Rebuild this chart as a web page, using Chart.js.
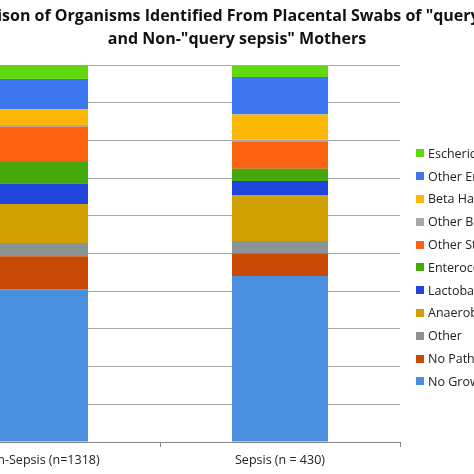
<!DOCTYPE html>
<html><head><meta charset="utf-8">
<script src="https://cdn.jsdelivr.net/npm/chart.js@4"></script>
<style>
html,body{margin:0;padding:0;width:474px;height:474px;overflow:hidden;background:#fff;font-family:"Open Sans",sans-serif}
#wrap{position:absolute;left:-140px;top:0;width:754px;height:474px}
#title{position:absolute;left:-140px;width:754px;top:4px;text-align:center;font-weight:bold;font-size:16px;line-height:23px;color:#111}
#legend{position:absolute;left:416px;top:142px;font-size:12.5px;color:#222;white-space:nowrap}
#legend div{height:22.8px;display:flex;align-items:center}
#legend span{display:inline-block;width:8px;height:8px;margin-right:4px}
</style></head><body>
<div id="wrap"><canvas id="c" width="754" height="474"></canvas></div>
<div id="title">Comparison of Organisms Identified From Placental Swabs of "query sepsis"<br>and Non-"query sepsis" Mothers</div>
<div id="legend"></div>
<script>
const categories = ["Non-Sepsis (n=1318)", "Sepsis (n = 430)"];
const seriesNames = ["No Growth","No Pathogen","Other","Anaerobes","Lactobacillus","Enterococcus","Other Streptococci","Other Beta Haemolytic Streptococci","Beta Haemolytic Streptococci Group B","Other Enterobacteriaceae","Escherichia coli"];
const noGrowth = [40.5, 44.0];
const noPathogen = [8.8, 6.0];
const other = [3.5, 3.3];
const anaerobes = [10.3, 12.1];
const lactobacillus = [5.5, 3.8];
const enterococcus = [5.7, 3.3];
const otherStrep = [9.3, 7.1];
const otherBeta = [0.5, 0.6];
const betaHaem = [4.2, 6.7];
const otherEntero = [8.0, 9.9];
const ecoli = [3.8, 3.1];
const yTicks = ["0%","10%","20%","30%","40%","50%","60%","70%","80%","90%","100%"];
const colors = ["#4a8fde","#c94a05","#8a9494","#d2a002","#1f45dc","#45a90e","#fb6212","#a8a8a8","#fdb806","#3d76ef","#62d80f"];
const values = [noGrowth,noPathogen,other,anaerobes,lactobacillus,enterococcus,otherStrep,otherBeta,betaHaem,otherEntero,ecoli];
const datasets = values.map((v,i)=>({label:seriesNames[i],data:v,backgroundColor:colors[i],borderWidth:0,barPercentage:0.4,categoryPercentage:1}));
const leg=document.getElementById('legend');
for(let i=seriesNames.length-1;i>=0;i--){const d=document.createElement('div');d.innerHTML='<span style="background:'+colors[i]+'"></span>'+seriesNames[i];leg.appendChild(d);}
new Chart(document.getElementById('c'),{type:'bar',data:{labels:categories,datasets},
options:{responsive:false,animation:false,layout:{padding:{top:65,right:214,left:0,bottom:0}},
plugins:{legend:{display:false},title:{display:false},tooltip:{enabled:false}},
scales:{
x:{stacked:true,grid:{display:true,drawOnChartArea:false,offset:true,tickLength:5,color:'#888'},border:{color:'#888'},
ticks:{color:'#222',font:{family:'Open Sans',size:12.5},padding:6},afterFit:s=>{s.height=32;}},
y:{stacked:true,min:0,max:100,ticks:{stepSize:10,callback:(v,i)=>yTicks[i],color:'#222',font:{family:'Open Sans',size:12}},
grid:{color:'#a8a8a8',drawTicks:false},border:{display:false},afterFit:s=>{s.width=60;}}
}}});
</script></body></html>
